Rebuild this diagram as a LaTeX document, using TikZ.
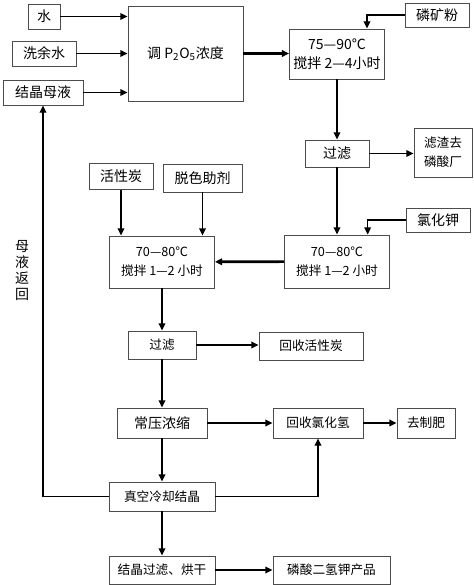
\documentclass[tikz,border=0pt]{standalone}
\usepackage{fontspec}
\newfontfamily\cjk{Noto Sans CJK SC}
\usetikzlibrary{arrows.meta}
\begin{document}
\begin{tikzpicture}[
    x=0.75pt, y=-0.75pt,
    box/.style={draw=black!70, line width=0.6pt, inner sep=0pt, align=center,
        font=\cjk\fontsize{10.5}{14}\selectfont},
    small/.style={font=\cjk\fontsize{9.5}{14}\selectfont},
    arr/.style={draw, -{Triangle[length=5.5pt,width=5pt]}, line width=1.1pt},
    thickarr/.style={arr, line width=2pt},
    line/.style={draw, line width=1.1pt}
]
    \useasboundingbox (0,0) rectangle (474,585);
    % raw materials
    \node[box, minimum width=24pt, minimum height=18.75pt] (water) at (44,16.5) {水};
    \node[box, minimum width=48pt, minimum height=18.75pt] (wash) at (44,53.5) {洗余水};
    \node[box, minimum width=60pt, minimum height=18.75pt] (mother) at (43,92.5) {结晶母液};
    \node[box, minimum width=86.25pt, minimum height=71.25pt] (adjust) at (185.5,53.5) {调 P\textsubscript{2}O\textsubscript{5}浓度};
    \node[box, minimum width=48pt, minimum height=18pt] (rock) at (437,15) {磷矿粉};
    \node[box, minimum width=71.25pt, minimum height=37.5pt] (react) at (337,54) {75—90℃\\搅拌 2—4小时};
    \node[box, minimum width=48pt, minimum height=20.25pt] (filterA) at (337,153.5) {过滤};
    \node[box, small, minimum width=43.5pt, minimum height=36.75pt] (residue) at (443,152.5) {滤渣去\\磷酸厂};
    \node[box, minimum width=48pt, minimum height=18pt] (kcl) at (438,220) {氯化钾};
    \node[box, small, minimum width=78.75pt, minimum height=39.75pt] (mixR) at (337,261.5) {70—80℃\\搅拌 1—2 小时};
    % decolouring
    \node[box, minimum width=48pt, minimum height=19.5pt] (carbon) at (121,176.5) {活性炭};
    \node[box, minimum width=59.25pt, minimum height=21pt] (aid) at (202.5,178) {脱色助剂};
    \node[box, small, minimum width=78.75pt, minimum height=39pt] (mixL) at (162,262) {70—80℃\\搅拌 1—2 小时};
    \node[box, small, minimum width=51pt, minimum height=21pt] (filterB) at (162,345) {过滤};
    \node[box, small, minimum width=78pt, minimum height=21pt] (reccarbon) at (311,346) {回收活性炭};
    % concentration and crystallisation
    \node[box, minimum width=67.5pt, minimum height=22.5pt] (concen) at (162,423) {常压浓缩};
    \node[box, small, minimum width=67.5pt, minimum height=22.5pt] (rechcl) at (318,423) {回收氯化氢};
    \node[box, small, minimum width=43.5pt, minimum height=22.5pt] (fert) at (426,423) {去制肥};
    \node[box, small, minimum width=79.5pt, minimum height=21.75pt] (cool) at (162,496.5) {真空冷却结晶};
    \node[box, small, minimum width=79.5pt, minimum height=21pt] (dry) at (162,570) {结晶过滤、烘干};
    \node[box, small, minimum width=87.75pt, minimum height=21pt] (product) at (331.5,570) {磷酸二氢钾产品};
    \node[align=center, inner sep=0pt, font=\cjk\fontsize{10.5}{12}\selectfont] (back) at (22,271) {母\\液\\返\\回};

    \draw[arr] (water) -- (water -| adjust.west);
    \draw[arr] (wash) -- (wash -| adjust.west);
    \draw[arr] (mother) -- (mother -| adjust.west);
    \draw[thickarr] (adjust.east) -- (adjust.east -| react.west);
    \draw[arr] (rock.west) -| ([xshift=22.5pt]react.north);
    \draw[arr] (react) -- (filterA);
    \draw[arr] (filterA) -- (filterA -| residue.west);
    \draw[arr] (filterA) -- (mixR);
    \draw[arr] (kcl.west) -| ([xshift=23pt]mixR.north);
    \draw[thickarr] (mixR) -- (mixL);
    \draw[arr] (carbon.south) -- (carbon.south |- mixL.north);
    \draw[arr] (aid.south) -- (aid.south |- mixL.north);
    \draw[arr] (mixL) -- (filterB);
    \draw[arr] (filterB) -- (filterB -| reccarbon.west);
    \draw[arr] (filterB) -- (concen);
    \draw[arr] (concen) -- (rechcl);
    \draw[arr] (rechcl) -- (fert);
    \draw[arr] (concen) -- (cool);
    \draw[arr] (cool) -- (dry);
    \draw[arr] (dry) -- (product);
    \draw[arr] (cool.west) -| (mother.south);
    \draw[arr] (cool.east) -| (rechcl.south);
\end{tikzpicture}
\end{document}
